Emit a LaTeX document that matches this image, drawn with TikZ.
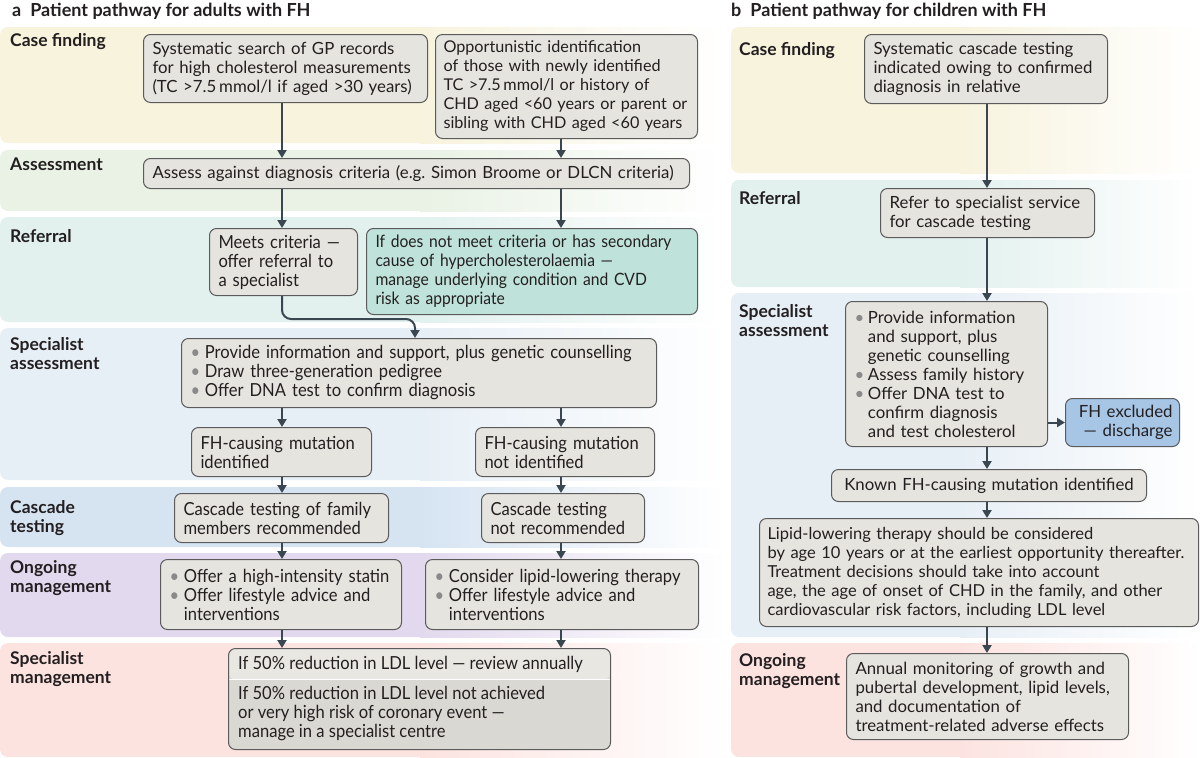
\documentclass[tikz,border=0pt]{standalone}
\usepackage{fontspec}
\setmainfont{Lato}
\newfontfamily\condf{Lato}[FakeStretch=0.92]
\usetikzlibrary{arrows.meta,calc}
\frenchspacing
\definecolor{txt}{HTML}{231F20}
\definecolor{boxfill}{HTML}{E6E4DF}
\definecolor{boxline}{HTML}{5B5B5B}
\definecolor{arrc}{HTML}{3A4650}
\definecolor{tealfill}{HTML}{BFE3DA}
\definecolor{bluefill}{HTML}{A7C6E6}
\definecolor{bulc}{HTML}{8A8A8A}
\definecolor{ldltop}{HTML}{E9E7E2}
\definecolor{ldlbot}{HTML}{DAD8D3}
\definecolor{bYel}{HTML}{F7F3DD}
\definecolor{bGrn}{HTML}{E9F2E5}
\definecolor{bTeal}{HTML}{E2F1EE}
\definecolor{bBlu}{HTML}{E7EFF6}
\definecolor{bCas}{HTML}{D6E4F2}
\definecolor{bPur}{HTML}{E2D9EE}
\definecolor{bPnk}{HTML}{FCE3E0}
\newcommand\bandfill[6]{\fill[#1,rounded corners=8pt] (#2,#3) rectangle (#5+12,#4);
  \shade[left color=#1,right color=white] (#5,#3) rectangle (#6,#4);}
\newcommand\bul{\makebox[0.8em][l]{\textcolor{bulc}{\textbullet}}}
\newcommand\ind{\hspace*{0.8em}}
\begin{document}
\begin{tikzpicture}[x=1pt,y=-1pt,
  box/.style={draw=boxline, line width=1pt, fill=boxfill, rounded corners=7pt, anchor=north west,
    inner xsep=9pt, inner ysep=0pt, align=left, text=txt, font=\fontsize{16.8}{19}\selectfont,
    execute at begin node={\frenchspacing\hyphenpenalty=10000\exhyphenpenalty=10000}},
  cbox/.style={box, font=\condf\fontsize{18}{19}\selectfont},
  plain/.style={inner sep=0pt, align=left, text=txt, font=\condf\fontsize{18}{19}\selectfont},
  lab/.style={anchor=north west, inner sep=0pt, align=left, text=txt, font=\bfseries\fontsize{17.5}{19}\selectfont},
  head/.style={anchor=north west, inner sep=0pt, text=txt, font=\bfseries\fontsize{18}{20}\selectfont},
  arr/.style={draw=arrc, line width=2pt, -{Triangle[length=8pt,width=9pt]}},
]
\useasboundingbox (0,0) rectangle (1200,758);
% bands left
\bandfill{bYel}{0}{27}{143}{420}{725}
\bandfill{bGrn}{0}{150}{211}{420}{725}
\bandfill{bTeal}{0}{217}{322}{420}{725}
\bandfill{bBlu}{0}{328}{480}{420}{725}
\bandfill{bCas}{0}{487}{547}{420}{725}
\bandfill{bPur}{0}{553}{637}{420}{725}
\bandfill{bPnk}{0}{643}{757}{420}{725}
% bands right
\bandfill{bYel}{731}{27}{173}{960}{1200}
\bandfill{bTeal}{731}{180}{287}{960}{1200}
\bandfill{bBlu}{731}{293}{637}{960}{1200}
\bandfill{bPnk}{731}{643}{757}{960}{1200}
% headers
\node[head] (ha) at (12,3) {a\hspace{9pt}Patient pathway for adults with FH};
\node[head] (hb) at (731,3) {b\hspace{9pt}Patient pathway for children with FH};
% labels left
\node[lab] (l1) at (10,33) {Case finding};
\node[lab] (l2) at (10,158) {Assessment};
\node[lab] (l3) at (10,229) {Referral};
\node[lab] (l4) at (10,337) {Specialist\\assessment};
\node[lab] (l5) at (10,500) {Cascade\\testing};
\node[lab] (l6) at (10,560) {Ongoing\\management};
\node[lab] (l7) at (10,651) {Specialist\\management};
% labels right
\node[lab] (r1) at (739,42) {Case finding};
\node[lab] (r2) at (739,191) {Referral};
\node[lab] (r3) at (739,304) {Specialist\\assessment};
\node[lab] (r4) at (739,653) {Ongoing\\management};
% columns
\coordinate (cA) at (282,0);
\coordinate (cB) at (561,0);
\coordinate (cC) at (987,0);
\coordinate (bend) at (415,319);
% left boxes
\node[box, text width=266pt, minimum height=68pt] (gp) at (143,34)
  {Systematic search of GP records\\for high cholesterol measurements\\(TC >7.5\,mmol/l if aged >30 years)};
\node[box, inner xsep=8pt, text width=246pt, minimum height=104pt, font=\fontsize{16.2}{19}\selectfont] (opp) at (435,34)
  {Opportunistic identification\\of those with newly identified\\TC >7.5\,mmol/l or history of\\CHD aged <60 years or parent or\\sibling with CHD aged <60 years};
\node[box, text width=528pt, minimum height=30pt] (assess) at (143,158)
  {Assess against diagnosis criteria (e.g. Simon Broome or DLCN criteria)};
\node[cbox, text width=130pt, minimum height=67pt] (meets) at (209,228)
  {Meets criteria —\\offer referral to\\a specialist};
\node[cbox, fill=tealfill, text width=313pt, minimum height=86pt, font=\condf\fontsize{17}{19}\selectfont] (teal) at (366,228)
  {If does not meet criteria or has secondary\\cause of hypercholesterolaemia —\\manage underlying condition and CVD\\risk as appropriate};
\node[cbox, text width=457pt, minimum height=69pt] (spec) at (181,338)
  {\bul Provide information and support, plus genetic counselling\\\bul Draw three-generation pedigree\\\bul Offer DNA test to confirm diagnosis};
\node[cbox, text width=162pt, minimum height=49pt] (mut1) at (191,427)
  {FH-causing mutation\\identified};
\node[cbox, text width=161pt, minimum height=49pt] (mut2) at (475,427)
  {FH-causing mutation\\not identified};
\node[cbox, text width=196pt, minimum height=49pt] (casc1) at (174,493)
  {Cascade testing of family\\members recommended};
\node[cbox, text width=145pt, minimum height=49pt] (casc2) at (481,493)
  {Cascade testing\\not recommended};
\node[cbox, text width=223pt, minimum height=70pt] (stat) at (160,559)
  {\bul Offer a high-intensity statin\\\bul Offer lifestyle advice and\\\ind interventions};
\node[cbox, text width=255pt, minimum height=70pt] (lip) at (425,559)
  {\bul Consider lipid-lowering therapy\\\bul Offer lifestyle advice and\\\ind interventions};
\node[cbox, fill=ldlbot, text width=364pt, minimum height=101pt,
  path picture={\fill[ldltop] (path picture bounding box.north west) rectangle ([yshift=-31pt]path picture bounding box.north east);
  \draw[white,line width=1.5pt] ([yshift=-31pt]path picture bounding box.north west) -- ([yshift=-31pt]path picture bounding box.north east);}] (ldl) at (228,648) {};
\node[plain, anchor=west] (ldla) at ($(ldl.north west)+(10,16)$)
  {If 50\% reduction in LDL level — review annually};
\node[plain, anchor=west] (ldlb) at ($(ldl.north west)+(10,66)$)
  {If 50\% reduction in LDL level not achieved\\or very high risk of coronary event —\\manage in a specialist centre};
% right boxes
\node[box, text width=225pt, minimum height=69pt] (sys) at (864,34)
  {Systematic cascade testing\\indicated owing to confirmed\\diagnosis in relative};
\node[box, text width=196pt, minimum height=49pt] (ref) at (880,188)
  {Refer to specialist service\\for cascade testing};
\node[box, text width=184pt, minimum height=145pt] (specr) at (845,301)
  {\bul Provide information\\\ind and support, plus\\\ind genetic counselling\\\bul Assess family history\\\bul Offer DNA test to\\\ind confirm diagnosis\\\ind and test cholesterol};
\node[box, fill=bluefill, align=right, inner xsep=7pt, text width=100pt, minimum height=48pt] (excl) at (1065,398)
  {FH excluded\\— discharge};
\node[box, align=center, text width=297pt, minimum height=32pt] (known) at (831,469)
  {Known FH-causing mutation identified};
\node[box, inner xsep=8pt, text width=423pt, minimum height=108pt, font=\fontsize{16.5}{19}\selectfont] (lipr) at (759,518)
  {Lipid-lowering therapy should be considered\\by age 10 years or at the earliest opportunity thereafter.\\Treatment decisions should take into account\\age, the age of onset of CHD in the family, and other\\cardiovascular risk factors, including LDL level};
\node[box, text width=264pt, minimum height=86pt] (annual) at (846,653)
  {Annual monitoring of growth and\\pubertal development, lipid levels,\\and documentation of\\treatment-related adverse effects};
% arrows left
\draw[arr] (gp.south -| cA) -- (assess.north -| cA);
\draw[arr] (opp.south -| cB) -- (assess.north -| cB);
\draw[arr] (assess.south -| cA) -- (meets.north -| cA);
\draw[arr] (assess.south -| cB) -- (teal.north -| cB);
\draw[arr, rounded corners=9pt] (meets.south -| cA) |- (bend) -- (spec.north -| bend);
\draw[arr] (spec.south -| cA) -- (mut1.north -| cA);
\draw[arr] (spec.south -| cB) -- (mut2.north -| cB);
\draw[arr] (mut1.south -| cA) -- (casc1.north -| cA);
\draw[arr] (mut2.south -| cB) -- (casc2.north -| cB);
\draw[arr] (casc1.south -| cA) -- (stat.north -| cA);
\draw[arr] (casc2.south -| cB) -- (lip.north -| cB);
\draw[arr] (stat.south -| cA) -- (ldl.north -| cA);
\draw[arr] (lip.south -| cB) -- (ldl.north -| cB);
% arrows right
\draw[arr] (sys.south -| cC) -- (ref.north -| cC);
\draw[arr] (ref.south -| cC) -- (specr.north -| cC);
\draw[arr] (specr.east |- excl.west) -- (excl.west);
\draw[arr] (specr.south -| cC) -- (known.north -| cC);
\draw[arr] (known.south -| cC) -- (lipr.north -| cC);
\draw[arr] (lipr.south -| cC) -- (annual.north -| cC);
\end{tikzpicture}
\end{document}
